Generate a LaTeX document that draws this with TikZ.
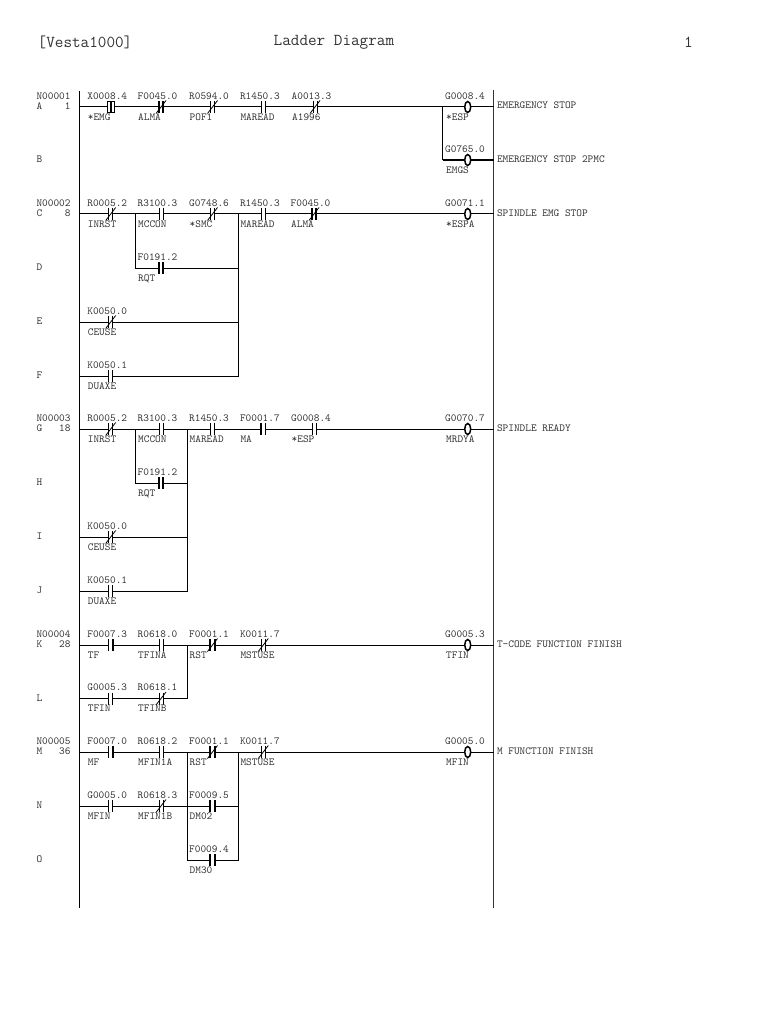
\documentclass[tikz,border=0pt]{standalone}
\usepackage{tikz}

\tikzset{
	x=1pt, y=-1pt,
	wire/.style={line width=1pt, black},
	leftrail/.style={line width=1pt, black},
	rightrail/.style={line width=1.4pt, black!80},
	bar/.style={line width=0.8pt, black},
	boldbar/.style={line width=1.8pt, black},
	smalltext/.style={font=\ttfamily\fontsize{10.8}{12}\selectfont, black!80, inner sep=0, anchor=west, text height=6pt, text depth=0pt},
	headtext/.style={font=\ttfamily\fontsize{16.7}{18}\selectfont, black!80, inner sep=0, anchor=west},
	pics/nopen/.style 2 args={code={
		\draw [bar] (-2, -6) -- (-2, 6);
		\draw [bar] (2, -6) -- (2, 6);
		\coordinate (-w) at (-2, 0);
		\coordinate (-e) at (2, 0);
		\node [smalltext] (-top) at (-23.5, -10.8) {#1};
		\node [smalltext] (-bot) at (-23, 10.4) {#2};
	}},
	pics/nclosed/.style 2 args={code={
		\draw [bar] (-2, -6) -- (-2, 6);
		\draw [bar] (2, -6) -- (2, 6);
		\draw [bar] (-5, 6.5) -- (5, -6.5);
		\coordinate (-w) at (-2, 0);
		\coordinate (-e) at (2, 0);
		\node [smalltext] (-top) at (-23.5, -10.8) {#1};
		\node [smalltext] (-bot) at (-23, 10.4) {#2};
	}},
	pics/boldopen/.style 2 args={code={
		\draw [boldbar] (-2.2, -6) -- (-2.2, 6);
		\draw [boldbar] (2.2, -6) -- (2.2, 6);
		\coordinate (-w) at (-2.2, 0);
		\coordinate (-e) at (2.2, 0);
		\node [smalltext] (-top) at (-23.5, -10.8) {#1};
		\node [smalltext] (-bot) at (-23, 10.4) {#2};
	}},
	pics/boldclosed/.style 2 args={code={
		\draw [boldbar] (-2.2, -6) -- (-2.2, 6);
		\draw [boldbar] (2.2, -6) -- (2.2, 6);
		\draw [bar] (-5, 6.5) -- (5, -6.5);
		\coordinate (-w) at (-2.2, 0);
		\coordinate (-e) at (2.2, 0);
		\node [smalltext] (-top) at (-23.5, -10.8) {#1};
		\node [smalltext] (-bot) at (-23, 10.4) {#2};
	}},
	pics/boxopen/.style 2 args={code={
		\draw [bar] (-3.5, -5.5) rectangle (-0.7, 5.5);
		\draw [bar] (0.7, -5.5) rectangle (3.5, 5.5);
		\coordinate (-w) at (-3.5, 0);
		\coordinate (-e) at (3.5, 0);
		\node [smalltext] (-top) at (-23.5, -10.8) {#1};
		\node [smalltext] (-bot) at (-23, 10.4) {#2};
	}},
	pics/coil/.style 2 args={code={
		\draw [line width=1.5pt, black] (0, 0) ellipse [x radius=3, y radius=5.5];
		\coordinate (-w) at (-3, 0);
		\coordinate (-e) at (3, 0);
		\node [smalltext] (-top) at (-22.7, -10.8) {#1};
		\node [smalltext] (-bot) at (-21.7, 10.4) {#2};
	}},
}

\begin{document}
\begin{tikzpicture}
	\useasboundingbox (0, 0) rectangle (768, 1024);

	\node [headtext] (title1) at (37.5, 42) {[Vesta1000]};
	\node [headtext] (title2) at (273.5, 42) {Ladder Diagram};
	\node [headtext] (title3) at (684, 42) {1};

	% rails
	\coordinate (lt) at (79, 91);
	\coordinate (lb) at (79, 908);
	\coordinate (rt) at (493.5, 90);
	\coordinate (rb) at (493.5, 908);
	\draw [leftrail] (lt) -- (lb);
	\draw [rightrail] (rt) -- (rb);

	% net numbers and row letters
	\foreach \nm/\y/\txt in {n1/96.5/N00001, n2/203.5/N00002, n3/418.5/N00003, n4/634.5/N00004, n5/741.5/N00005,
		ra/106.5/A~~~~1, rb2/159.5/B, rc/213.5/C~~~~8, rd/267.5/D, re/321.5/E, rf/375.5/F,
		rg/428.5/G~~~18, rh/482.5/H, ri/536.5/I, rj/590.5/J,
		rk/644.5/K~~~28, rl/698.5/L, rm/751.5/M~~~36, rn/805.5/N, ro/859.5/O}
		\node [smalltext] (\nm) at (36.3, \y) {\txt};

	% N00001
	\pic (a1) at (110.7, 107) {boxopen={X0008.4}{*EMG}};
	\pic (a2) at (161, 107) {boldclosed={F0045.0}{ALMA}};
	\pic (a3) at (212.5, 107) {nclosed={R0594.0}{POF1}};
	\pic (a4) at (263.3, 107) {nopen={R1450.3}{MAREAD}};
	\pic (a5) at (315, 107) {nclosed={A0013.3}{A1996}};
	\pic (a6) at (467.7, 107) {coil={G0008.4}{*ESP}};
	\pic (b6) at (467.7, 160) {coil={G0765.0}{EMGS}};
	\coordinate (ja) at (442.5, 107);
	\coordinate (jb) at (442.5, 160);
	\draw [wire] (lt |- a1-w) -- (a1-w) (a1-e) -- (a2-w) (a2-e) -- (a3-w) (a3-e) -- (a4-w)
		(a4-e) -- (a5-w) (a5-e) -- (a6-w) (a6-e) -- (rt |- a6-e);
	\draw [wire] (ja) -- (jb);
	\draw [line width=1.6pt] (jb) -- (b6-w) (b6-e) -- (rt |- b6-e);
	\node [smalltext] (la) at (496.8, 106) {EMERGENCY STOP};
	\node [smalltext] (lb2) at (496.8, 159.5) {EMERGENCY STOP 2PMC};

	% N00002
	\pic (c1) at (110.7, 214) {nclosed={R0005.2}{INRST}};
	\pic (c2) at (161, 214) {nopen={R3100.3}{MCCON}};
	\pic (c3) at (212.5, 214) {nclosed={G0748.6}{*SMC}};
	\pic (c4) at (263.3, 214) {nopen={R1450.3}{MAREAD}};
	\pic (c5) at (314, 214) {boldclosed={F0045.0}{ALMA}};
	\pic (c6) at (467.7, 214) {coil={G0071.1}{*ESPA}};
	\pic (d1) at (161, 268) {boldopen={F0191.2}{RQT}};
	\pic (e1) at (110.7, 322) {nclosed={K0050.0}{CEUSE}};
	\pic (f1) at (110.7, 376) {nopen={K0050.1}{DUAXE}};
	\coordinate (jc) at (135.7, 214);
	\coordinate (jd) at (135.7, 268);
	\coordinate (je) at (238.7, 214);
	\coordinate (jf) at (238.7, 376);
	\draw [wire] (lt |- c1-w) -- (c1-w) (c1-e) -- (c2-w) (c2-e) -- (c3-w) (c3-e) -- (c4-w)
		(c4-e) -- (c5-w) (c5-e) -- (c6-w) (c6-e) -- (rt |- c6-e);
	\draw [wire] (jc) -- (jd) -- (d1-w) (d1-e) -- (je |- d1-e);
	\draw [wire] (je) -- (jf) -- (f1-e) (f1-w) -- (lt |- f1-w);
	\draw [wire] (lt |- e1-w) -- (e1-w) (e1-e) -- (je |- e1-e);
	\node [smalltext] (lc) at (496.8, 213.5) {SPINDLE EMG STOP};

	% N00003
	\pic (g1) at (110.7, 429) {nclosed={R0005.2}{INRST}};
	\pic (g2) at (161, 429) {nopen={R3100.3}{MCCON}};
	\pic (g3) at (212.5, 429) {nopen={R1450.3}{MAREAD}};
	\pic (g4) at (263.3, 429) {boldopen={F0001.7}{MA}};
	\pic (g5) at (314.5, 429) {nopen={G0008.4}{*ESP}};
	\pic (g6) at (467.7, 429) {coil={G0070.7}{MRDYA}};
	\pic (h1) at (161, 483) {boldopen={F0191.2}{RQT}};
	\pic (i1) at (110.7, 537) {nclosed={K0050.0}{CEUSE}};
	\pic (j1) at (110.7, 591) {nopen={K0050.1}{DUAXE}};
	\coordinate (jg) at (135.7, 429);
	\coordinate (jh) at (135.7, 483);
	\coordinate (ji) at (187, 429);
	\coordinate (jj) at (187, 591);
	\draw [wire] (lt |- g1-w) -- (g1-w) (g1-e) -- (g2-w) (g2-e) -- (g3-w) (g3-e) -- (g4-w)
		(g4-e) -- (g5-w) (g5-e) -- (g6-w) (g6-e) -- (rt |- g6-e);
	\draw [wire] (jg) -- (jh) -- (h1-w) (h1-e) -- (ji |- h1-e);
	\draw [wire] (ji) -- (jj) -- (j1-e) (j1-w) -- (lt |- j1-w);
	\draw [wire] (lt |- i1-w) -- (i1-w) (i1-e) -- (ji |- i1-e);
	\node [smalltext] (lg) at (496.8, 428.5) {SPINDLE READY};

	% N00004
	\pic (k1) at (110.7, 645) {boldopen={F0007.3}{TF}};
	\pic (k2) at (161, 645) {nopen={R0618.0}{TFINA}};
	\pic (k3) at (212.5, 645) {boldclosed={F0001.1}{RST}};
	\pic (k4) at (263.3, 645) {nclosed={K0011.7}{MSTUSE}};
	\pic (k6) at (467.7, 645) {coil={G0005.3}{TFIN}};
	\pic (l1) at (110.7, 698.5) {nopen={G0005.3}{TFIN}};
	\pic (l2) at (161, 698.5) {nclosed={R0618.1}{TFINB}};
	\coordinate (jk) at (187, 645);
	\coordinate (jl) at (187, 698.5);
	\draw [wire] (lt |- k1-w) -- (k1-w) (k1-e) -- (k2-w) (k2-e) -- (k3-w) (k3-e) -- (k4-w)
		(k4-e) -- (k6-w) (k6-e) -- (rt |- k6-e);
	\draw [wire] (lt |- l1-w) -- (l1-w) (l1-e) -- (l2-w) (l2-e) -- (jl) -- (jk);
	\node [smalltext] (lk) at (496.8, 644.5) {T-CODE FUNCTION FINISH};

	% N00005
	\pic (m1) at (110.7, 752) {boldopen={F0007.0}{MF}};
	\pic (m2) at (161, 752) {nopen={R0618.2}{MFIN1A}};
	\pic (m3) at (212.5, 752) {boldclosed={F0001.1}{RST}};
	\pic (m4) at (263.3, 752) {nclosed={K0011.7}{MSTUSE}};
	\pic (m6) at (467.7, 752) {coil={G0005.0}{MFIN}};
	\pic (n1) at (110.7, 806) {nopen={G0005.0}{MFIN}};
	\pic (n2) at (161, 806) {nclosed={R0618.3}{MFIN1B}};
	\pic (n3) at (212.5, 806) {boldopen={F0009.5}{DM02}};
	\pic (o3) at (212.5, 860) {boldopen={F0009.4}{DM30}};
	\coordinate (jm) at (187, 752);
	\coordinate (jo) at (187, 860);
	\coordinate (jp) at (238.7, 752);
	\coordinate (jq) at (238.7, 860);
	\draw [wire] (lt |- m1-w) -- (m1-w) (m1-e) -- (m2-w) (m2-e) -- (m3-w) (m3-e) -- (m4-w)
		(m4-e) -- (m6-w) (m6-e) -- (rt |- m6-e);
	\draw [wire] (lt |- n1-w) -- (n1-w) (n1-e) -- (n2-w) (n2-e) -- (n3-w) (n3-e) -- (jp |- n3-e);
	\draw [wire] (jm) -- (jo) -- (o3-w) (o3-e) -- (jq) -- (jp);
	\node [smalltext] (lm) at (496.8, 751.5) {M FUNCTION FINISH};
\end{tikzpicture}
\end{document}
